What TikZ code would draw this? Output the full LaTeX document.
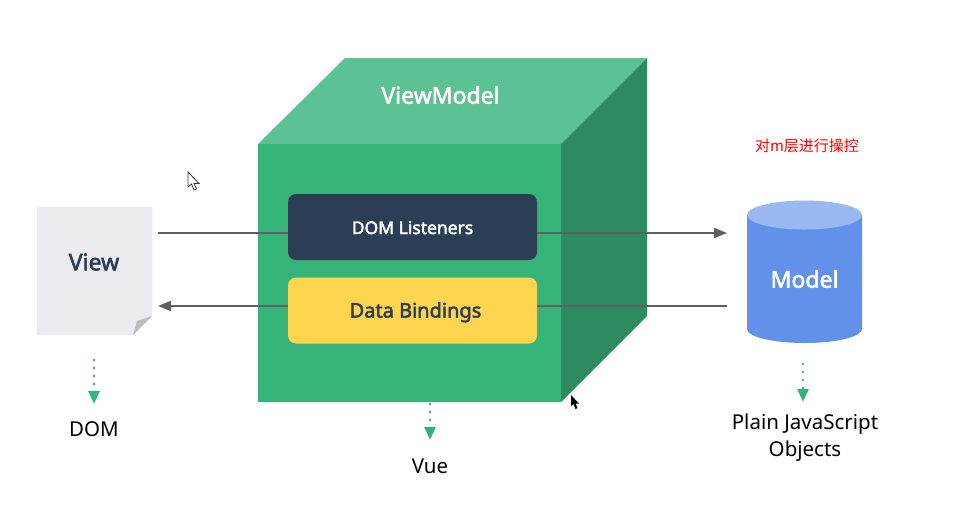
\documentclass[tikz,border=0pt]{standalone}
\usepackage{fontspec}
\setmainfont{Noto Sans}
\newfontfamily\heavy[FakeBold=2.4]{Noto Sans}
\newfontfamily\cjk{Noto Sans CJK SC}
\usetikzlibrary{arrows.meta,positioning}
\definecolor{cubefront}{HTML}{35B379}
\definecolor{cubetop}{HTML}{5CC193}
\definecolor{cubeside}{HTML}{2E8B5F}
\definecolor{navy}{HTML}{2C3E56}
\definecolor{sunny}{HTML}{FFD54F}
\definecolor{paper}{HTML}{ECECF0}
\definecolor{fold}{HTML}{BDBDBD}
\definecolor{dbside}{HTML}{6291EA}
\definecolor{dbtop}{HTML}{9AB9F3}
\definecolor{wire}{HTML}{5F5F5F}
\definecolor{tipgreen}{HTML}{35B379}

\begin{document}
\begin{tikzpicture}[x=1pt,y=-1pt]
	\tikzset{
		Box/.style = {rounded corners=8pt, minimum width=249pt, minimum height=66pt, inner sep=0pt, text height=14pt, text depth=0pt},
		Title/.style = {font=\heavy\fontsize{23}{26}\selectfont},
		Caption/.style = {font=\fontsize{20.5}{27}\selectfont, align=center, text=black},
		Wire/.style = {line width=2pt, wire},
		WireTip/.style = {Wire, -{Triangle[length=13pt,width=10pt]}},
		Dots/.style = {line width=2.6pt, tipgreen!85!gray, line cap=round, dash pattern=on 0pt off 8pt, -{Triangle[length=13pt,width=11pt,fill=tipgreen,color=tipgreen]}},
	}
	\path[use as bounding box] (0,0) rectangle (973,523);

	% cube
	\fill[cubetop] (258,144) -- (345,58) -- (647,58) -- (561,144) -- cycle;
	\fill[cubeside] (561,144) -- (647,58) -- (647,316) -- (561,402) -- cycle;
	\fill[cubefront] (258,144) rectangle (561,402);
	\node (vm) at (440.5,95) [Title, text=white] {ViewModel};

	% inner boxes
	\node (listeners) at (412.5,227) [Box, fill=navy, text=white, font=\heavy\fontsize{17.5}{20}\selectfont] {DOM Listeners};
	\node (bindings) at (412.5,310.5) [Box, fill=sunny, text=navy, font=\heavy\fontsize{20}{22}\selectfont] {\kern6pt Data Bindings};

	% view page
	\fill[paper] (37,207) -- (152,207) -- (152,316) -- (133,335) -- (37,335) -- cycle;
	\fill[fold] (152,316) -- (137,321) -- (133,335) -- cycle;
	\node (view) at (94,262) [Title, text=navy] {View};

	% model
	\fill[dbside] (747,215) -- (747,329) arc[start angle=180, end angle=0, x radius=57.5, y radius=14] -- (862,215) -- cycle;
	\fill[dbtop] (804.5,215) ellipse [x radius=57.5, y radius=14.5];
	\node (model) at (804.5,279) [Title, text=white] {Model};

	% ends of the wires
	\coordinate (viewout) at (158,233);
	\coordinate (viewin) at (158,306);
	\coordinate (modelin) at (727,233);
	\coordinate (modelout) at (727,306);
	\draw [Wire] (viewout) -- (listeners.west |- viewout);
	\draw [WireTip] (listeners.east |- modelin) -- (modelin);
	\draw [Wire] (modelout) -- (bindings.east |- modelout);
	\draw [WireTip] (bindings.west |- viewin) -- (viewin);

	% captions
	\node (dom) at (94,429) [Caption] {DOM};
	\node (vue) at (430,466) [Caption] {Vue};
	\node (plain) at (805,438) [Caption] {Plain JavaScript\\Objects};
	\node (note) at (807,146) [text=red, font=\cjk\fontsize{15}{16}\selectfont] {对m层进行操控};

	\coordinate (domtop) at (94,360);
	\coordinate (domtip) at (94,404);
	\coordinate (vuetop) at (430,404);
	\coordinate (vuetip) at (430,440);
	\coordinate (plaintop) at (803,364);
	\coordinate (plaintip) at (803,402);
	\draw [Dots] (domtop) -- (domtip);
	\draw [Dots] (vuetop) -- (vuetip);
	\draw [Dots] (plaintop) -- (plaintip);

	% mouse pointers
	\draw [fill=white, draw=black!80, line width=0.8pt] (188,172) -- (188,187) -- (191.5,184) -- (194,190) -- (196.5,189) -- (194,183.5) -- (199,183.5) -- cycle;
	\fill [black] (571,395) -- (571,406) -- (573.5,404) -- (575.5,409) -- (577.5,408) -- (575.5,403.5) -- (579,403.5) -- cycle;
\end{tikzpicture}
\end{document}
